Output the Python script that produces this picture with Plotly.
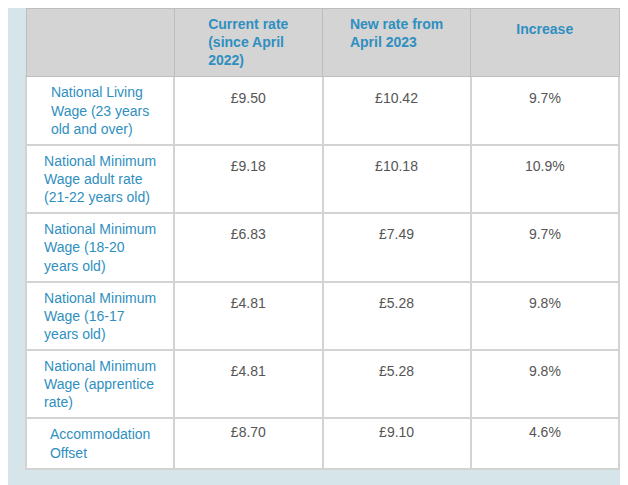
import plotly.graph_objects as go

header = ["", "<b>Current rate<br>(since April<br>2022)</b>", "<b>New rate from<br>April 2023</b>", "<b><br>Increase</b>"]
labels = [
    "National Living<br>Wage (23 years<br>old and over)",
    "National Minimum<br>Wage adult rate<br>(21-22 years old)",
    "National Minimum<br>Wage (18-20<br>years old)",
    "National Minimum<br>Wage (16-17<br>years old)",
    "National Minimum<br>Wage (apprentice<br>rate)",
    "Accommodation<br>Offset",
]
current = ["£9.50", "£9.18", "£6.83", "£4.81", "£4.81", "£8.70"]
new_rate = ["£10.42", "£10.18", "£7.49", "£5.28", "£5.28", "£9.10"]
increase = ["9.7%", "10.9%", "9.7%", "9.8%", "9.8%", "4.6%"]

def mid(vals, lab):
    # push single values down one line so they sit beside the middle line of a 3-line label
    return ["<br>" + v if l.count("<br>") == 2 else v for v, l in zip(vals, lab)]

blue = "#2f8fc0"
grey_text = "#555555"
border = "#d3d3d3"

fig = go.Figure(go.Table(
    domain=dict(x=[18 / 628, 611 / 628], y=[0, 1]),
    columnwidth=[1, 1, 1, 1],
    header=dict(
        values=header,
        fill_color="#d4d4d4",
        line=dict(color="#bdbdbd", width=1),
        font=dict(family="Liberation Sans, Arial", size=14, color=blue),
        align="center",
        height=30,
    ),
    cells=dict(
        values=[labels, mid(current, labels), mid(new_rate, labels), mid(increase, labels)],
        fill_color="white",
        line=dict(color=border, width=2),
        font=dict(family="Liberation Sans, Arial", size=14,
                  color=[blue, grey_text, grey_text, grey_text]),
        align="center",
        height=30,
    ),
))
fig.update_layout(
    width=628, height=485,
    margin=dict(l=0, r=0, t=0, b=0),
    paper_bgcolor="#d5e5ea",
)
fig.write_html("out.html")
